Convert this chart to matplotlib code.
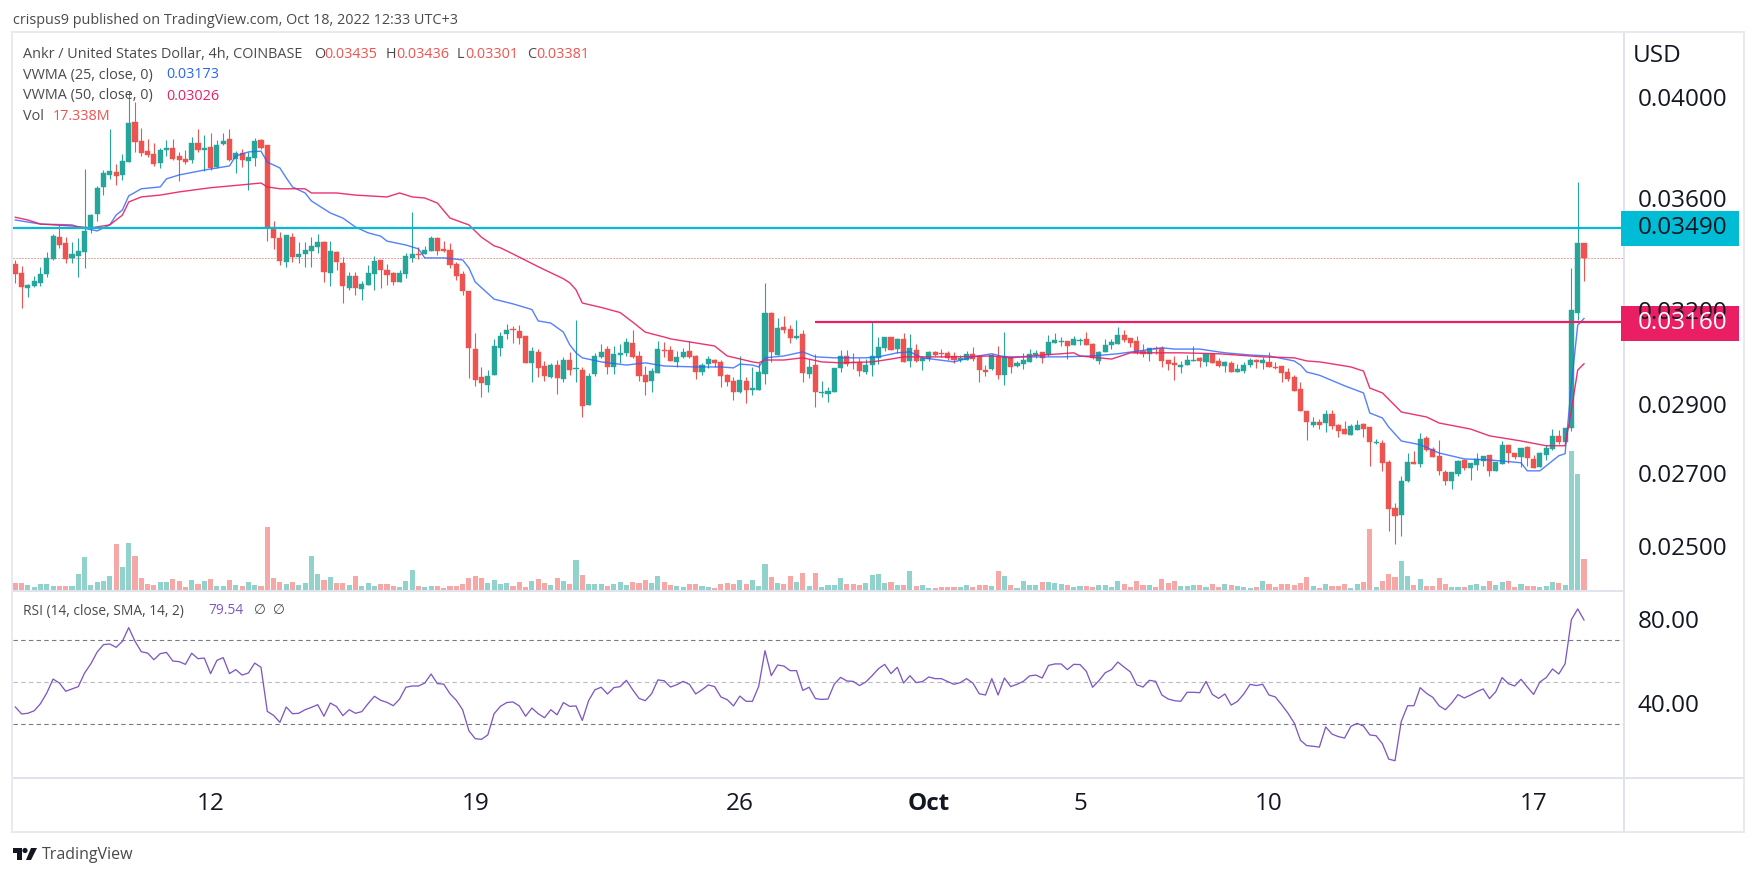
#!/usr/bin/env python
# -*- coding: utf-8 -*-
"""Ankr / USD 4h chart with volume, VWMA lines and RSI pane."""

import matplotlib

matplotlib.use("Agg")
import matplotlib.pyplot as plt  # noqa: E402
import numpy as np  # noqa: E402
from matplotlib.patches import Circle, Polygon, Rectangle  # noqa: E402
from matplotlib.ticker import NullLocator  # noqa: E402

opens = [
    .03360, .03329, .03277, .03284, .03294, .03325, .03378, .03455, .03434, .03381,
    .03388, .03403, .03485, .03539, .03642, .03688, .03699, .03688, .03738, .03898,
    .03821, .03781, .03770, .03734, .03785, .03793, .03762, .03750, .03746, .03813,
    .03785, .03797, .03719, .03809, .03829, .03750, .03774, .03742, .03754, .03825,
    .03805, .03494, .03452, .03367, .03455, .03385, .03395, .03406, .03420, .03438,
    .03329, .03403, .03364, .03277, .03318, .03274, .03287, .03325, .03374, .03339,
    .03329, .03297, .03325, .03381, .03395, .03395, .03406, .03452, .03413, .03410,
    .03360, .03325, .03266, .03073, .02984, .02960, .02990, .03077, .03122, .03138,
    .03132, .03115, .03029, .03064, .03019, .02984, .03022, .02978, .03038, .03009,
    .03006, .02898, .02994, .03048, .03073, .03016, .03054, .03061, .03093, .03051,
    .02990, .02972, .02997, .03070, .03070, .03032, .03048, .03067, .03051, .03000,
    .03025, .03038, .03032, .02990, .02972, .02938, .02972, .02944, .02944, .02994,
    .03190, .03054, .03145, .03138, .03109, .03122, .02994, .03022, .02935, .02932,
    .02938, .03013, .03051, .03032, .03032, .03000, .03022, .03045, .03077, .03112,
    .03073, .03106, .03035, .03070, .03035, .03041, .03064, .03061, .03061, .03051,
    .03038, .03038, .03058, .03051, .03006, .03009, .03048, .02990, .03048, .03019,
    .03025, .03032, .03054, .03064, .03054, .03093, .03096, .03099, .03087, .03099,
    .03106, .03090, .03035, .03064, .03087, .03090, .03118, .03109, .03099, .03067,
    .03058, .03077, .03077, .03038, .03029, .03016, .03022, .03035, .03045, .03032,
    .03058, .03035, .03019, .03029, .03000, .03003, .03022, .03038, .03029, .03032,
    .03016, .03019, .03000, .02984, .02947, .02880, .02838, .02847, .02844, .02871,
    .02838, .02826, .02809, .02823, .02841, .02832, .02785, .02785, .02731, .02603,
    .02583, .02676, .02731, .02725, .02800, .02768, .02748, .02702, .02676, .02696,
    .02736, .02713, .02722, .02733, .02751, .02705, .02725, .02780, .02756, .02745,
    .02774, .02739, .02716, .02751, .02768, .02806, .02788, .02829, .03190, .03435,
]
closes = [
    .03325, .03281, .03287, .03301, .03325, .03381, .03459, .03427, .03378, .03395,
    .03406, .03478, .03536, .03639, .03695, .03703, .03684, .03742, .03894, .03817,
    .03774, .03766, .03730, .03785, .03793, .03750, .03746, .03738, .03813, .03785,
    .03793, .03715, .03805, .03821, .03746, .03774, .03746, .03758, .03821, .03793,
    .03490, .03452, .03371, .03463, .03385, .03395, .03410, .03424, .03438, .03332,
    .03406, .03367, .03284, .03318, .03277, .03290, .03329, .03371, .03339, .03322,
    .03297, .03329, .03388, .03395, .03392, .03410, .03452, .03406, .03406, .03357,
    .03318, .03266, .03077, .02975, .02966, .02987, .03083, .03115, .03135, .03135,
    .03109, .03029, .03067, .03013, .02987, .03022, .02981, .03038, .03006, .03013,
    .02895, .02987, .03051, .03064, .03016, .03058, .03061, .03096, .03048, .02987,
    .02969, .03003, .03073, .03067, .03035, .03048, .03064, .03048, .03000, .03022,
    .03041, .03029, .02987, .02969, .02938, .02975, .02944, .02950, .03000, .03190,
    .03064, .03141, .03135, .03109, .03115, .02997, .03016, .02938, .02938, .02941,
    .03013, .03051, .03025, .03029, .03003, .03022, .03051, .03080, .03112, .03070,
    .03106, .03032, .03077, .03035, .03045, .03064, .03054, .03058, .03045, .03038,
    .03045, .03058, .03041, .03006, .03000, .03054, .02990, .03051, .03016, .03029,
    .03038, .03058, .03061, .03045, .03096, .03102, .03099, .03083, .03106, .03102,
    .03087, .03045, .03064, .03087, .03096, .03118, .03102, .03093, .03061, .03058,
    .03077, .03073, .03035, .03025, .03022, .03022, .03038, .03038, .03035, .03058,
    .03029, .03019, .03032, .03000, .03009, .03022, .03038, .03032, .03038, .03016,
    .03013, .02997, .02978, .02941, .02880, .02847, .02847, .02838, .02871, .02835,
    .02820, .02812, .02835, .02838, .02826, .02788, .02788, .02728, .02600, .02580,
    .02676, .02731, .02725, .02797, .02765, .02745, .02705, .02676, .02702, .02733,
    .02713, .02728, .02739, .02748, .02705, .02731, .02780, .02756, .02745, .02771,
    .02742, .02713, .02756, .02771, .02806, .02788, .02829, .03200, .03434, .03381,
]
highs = [
    .03374, .03353, .03290, .03318, .03350, .03403, .03466, .03500, .03455, .03438,
    .03452, .03711, .03539, .03646, .03707, .03868, .03730, .03770, .04027, .03981,
    .03872, .03829, .03813, .03793, .03825, .03829, .03778, .03785, .03837, .03868,
    .03845, .03853, .03825, .03853, .03868, .03781, .03789, .03778, .03833, .03829,
    .03805, .03514, .03474, .03463, .03471, .03438, .03438, .03455, .03466, .03441,
    .03441, .03406, .03385, .03332, .03332, .03301, .03357, .03388, .03374, .03360,
    .03332, .03339, .03399, .03546, .03420, .03424, .03459, .03455, .03441, .03434,
    .03367, .03336, .03266, .03125, .03016, .03006, .03106, .03128, .03155, .03148,
    .03151, .03115, .03080, .03073, .03035, .03029, .03038, .03048, .03064, .03168,
    .03016, .02997, .03061, .03090, .03083, .03083, .03090, .03109, .03135, .03067,
    .03019, .03013, .03099, .03096, .03083, .03067, .03077, .03099, .03054, .03029,
    .03051, .03041, .03038, .02994, .02984, .03051, .02984, .03016, .03029, .03294,
    .03194, .03174, .03181, .03151, .03168, .03135, .03041, .03058, .02972, .02954,
    .03013, .03070, .03070, .03061, .03045, .03041, .03161, .03112, .03112, .03112,
    .03109, .03125, .03122, .03090, .03051, .03067, .03067, .03073, .03067, .03064,
    .03054, .03067, .03080, .03054, .03022, .03058, .03083, .03128, .03048, .03035,
    .03061, .03073, .03070, .03064, .03118, .03125, .03112, .03099, .03115, .03109,
    .03128, .03093, .03067, .03106, .03106, .03145, .03135, .03109, .03115, .03090,
    .03077, .03083, .03083, .03038, .03051, .03035, .03054, .03083, .03048, .03058,
    .03061, .03045, .03035, .03035, .03025, .03032, .03045, .03041, .03048, .03064,
    .03032, .03019, .03013, .02990, .02969, .02880, .02862, .02856, .02883, .02883,
    .02841, .02850, .02841, .02853, .02844, .02832, .02797, .02794, .02736, .02616,
    .02690, .02756, .02762, .02815, .02806, .02774, .02794, .02708, .02702, .02736,
    .02739, .02728, .02756, .02748, .02751, .02731, .02791, .02780, .02756, .02771,
    .02777, .02751, .02759, .02780, .02826, .02823, .02829, .03346, .03661, .03436,
]
lows = [
    .03294, .03207, .03246, .03281, .03284, .03315, .03374, .03417, .03364, .03364,
    .03315, .03346, .03471, .03514, .03611, .03673, .03650, .03669, .03738, .03778,
    .03762, .03758, .03723, .03715, .03762, .03746, .03665, .03730, .03734, .03778,
    .03703, .03707, .03715, .03805, .03742, .03695, .03719, .03631, .03723, .03789,
    .03441, .03413, .03357, .03350, .03367, .03364, .03350, .03350, .03399, .03297,
    .03284, .03339, .03225, .03270, .03253, .03235, .03287, .03270, .03277, .03287,
    .03287, .03297, .03311, .03367, .03378, .03395, .03406, .03392, .03403, .03346,
    .03304, .03253, .02981, .02957, .02922, .02938, .02990, .03051, .03106, .03093,
    .03090, .03029, .02969, .02984, .02972, .02981, .02932, .02969, .02990, .02969,
    .02862, .02898, .02987, .03045, .02994, .02994, .03029, .03051, .03045, .02972,
    .02929, .02938, .02997, .03048, .03035, .03016, .03045, .03045, .02978, .02990,
    .03013, .03016, .02954, .02957, .02913, .02935, .02904, .02929, .02944, .02963,
    .03032, .03054, .03125, .03093, .03106, .02969, .02981, .02892, .02922, .02907,
    .02938, .03000, .03019, .03009, .02987, .02994, .02987, .03025, .03067, .03070,
    .03061, .03032, .03016, .03032, .03006, .03035, .03051, .03048, .03038, .03029,
    .03032, .03038, .03035, .02969, .02987, .03006, .02978, .02960, .02997, .03016,
    .03009, .03032, .03045, .03029, .03051, .03093, .03083, .03041, .03087, .03087,
    .03087, .03041, .03025, .03064, .03073, .03090, .03096, .03080, .03058, .03048,
    .03035, .03058, .03016, .03006, .02975, .02997, .03022, .03035, .03016, .03019,
    .03029, .03016, .03000, .03000, .03000, .02997, .03016, .03013, .03009, .03016,
    .03009, .02969, .02972, .02941, .02880, .02794, .02832, .02826, .02818, .02826,
    .02803, .02812, .02809, .02823, .02803, .02719, .02782, .02705, .02540, .02506,
    .02527, .02673, .02725, .02716, .02762, .02745, .02694, .02665, .02654, .02690,
    .02708, .02679, .02708, .02719, .02690, .02705, .02725, .02728, .02739, .02716,
    .02719, .02713, .02716, .02736, .02765, .02782, .02788, .02820, .03168, .03301,
]
# volume in millions
volumes = [
    3.9, 3.9, 2.8, 1.7, 3.4, 3.4, 2.2, 2.2, 2.2, 2.2,
    9.0, 18.5, 2.8, 4.5, 5.0, 7.8, 25.8, 12.9, 26.3, 19.0,
    6.7, 3.4, 2.8, 4.5, 4.5, 6.2, 5.0, 1.7, 5.6, 3.4,
    5.0, 6.2, 2.2, 2.2, 5.6, 2.8, 2.2, 4.5, 2.8, 2.2,
    35.3, 6.7, 4.5, 3.4, 4.5, 2.8, 3.9, 19.0, 9.0, 5.6,
    7.3, 3.9, 3.9, 2.8, 7.8, 2.2, 3.9, 2.2, 3.4, 3.4,
    2.2, 1.7, 5.0, 11.2, 2.2, 1.7, 2.2, 2.2, 1.1, 2.2,
    2.2, 3.4, 6.7, 7.8, 6.7, 3.9, 5.6, 3.4, 3.9, 2.2,
    4.5, 1.7, 5.0, 6.2, 3.9, 2.8, 6.7, 5.0, 3.4, 16.8,
    8.4, 3.4, 3.4, 3.4, 2.2, 3.4, 4.5, 2.8, 4.5, 3.9,
    5.6, 3.9, 7.8, 4.5, 2.8, 2.2, 1.7, 3.4, 3.4, 2.2,
    1.7, 1.1, 3.4, 3.9, 3.4, 5.6, 3.4, 5.6, 2.2, 14.6,
    7.3, 3.9, 3.4, 7.8, 4.5, 9.5, 2.2, 9.5, 1.7, 2.8,
    2.8, 6.7, 3.4, 3.4, 2.8, 3.9, 8.4, 9.0, 3.9, 4.5,
    2.8, 2.8, 10.6, 2.2, 2.8, 1.1, 1.1, 1.7, 1.7, 1.7,
    1.7, 2.8, 1.7, 2.8, 2.8, 2.2, 10.6, 7.8, 2.8, 1.1,
    5.0, 2.8, 2.8, 4.5, 4.5, 3.9, 3.4, 2.8, 1.7, 2.2,
    2.2, 1.7, 2.8, 2.8, 1.7, 5.0, 3.4, 1.7, 5.0, 2.8,
    2.8, 1.7, 6.2, 3.9, 5.0, 2.2, 2.2, 2.8, 2.8, 1.7,
    3.4, 1.7, 3.4, 2.8, 2.2, 1.7, 1.1, 1.7, 5.0, 3.4,
    1.7, 3.4, 3.4, 2.8, 3.9, 7.3, 2.2, 1.1, 3.4, 2.2,
    2.2, 3.4, 1.1, 3.4, 4.5, 34.2, 1.7, 5.0, 9.0, 7.3,
    16.2, 7.8, 2.8, 6.2, 2.2, 2.2, 6.7, 3.4, 1.7, 1.7,
    1.7, 2.8, 3.4, 2.2, 5.0, 2.8, 4.5, 5.0, 1.7, 3.4,
    2.2, 2.2, 1.7, 2.2, 4.5, 3.9, 2.8, 77.9, 65.0, 17.338,
]
rsi = [
    38.1, 34.8, 35.1, 36.3, 39.7, 44.8, 51.4, 49.5, 45.6, 46.7,
    47.8, 54.3, 58.7, 64.3, 67.8, 68.1, 66.5, 69.4, 75.9, 69.4,
    64.4, 63.8, 60.6, 63.5, 64.1, 60.0, 59.7, 58.4, 63.7, 61.1,
    61.4, 54.0, 60.3, 61.6, 54.0, 55.9, 53.3, 54.3, 59.0, 57.0,
    36.0, 34.1, 30.8, 38.1, 34.9, 35.1, 36.8, 37.9, 39.2, 33.7,
    40.0, 38.3, 34.0, 36.8, 35.1, 35.9, 39.7, 43.2, 41.3, 40.3,
    38.7, 41.9, 47.5, 48.1, 48.1, 49.5, 53.8, 49.2, 49.0, 44.4,
    41.3, 36.8, 26.8, 23.0, 22.7, 24.8, 34.9, 38.4, 40.2, 40.5,
    38.6, 33.7, 37.6, 34.9, 33.0, 36.8, 34.4, 40.2, 38.4, 38.6,
    31.7, 41.1, 46.3, 47.5, 44.3, 47.3, 47.8, 50.8, 46.3, 42.2,
    41.1, 44.4, 51.0, 50.6, 47.6, 48.7, 50.3, 48.9, 44.3, 46.3,
    48.6, 47.8, 42.9, 41.6, 38.6, 43.3, 40.8, 40.8, 47.9, 64.9,
    53.0, 58.1, 57.6, 55.4, 55.4, 46.0, 47.5, 42.1, 41.7, 41.9,
    49.0, 52.2, 50.5, 50.3, 48.3, 50.0, 53.0, 56.3, 58.4, 54.0,
    57.0, 49.5, 53.0, 49.7, 50.2, 52.4, 51.6, 51.6, 50.2, 48.9,
    49.7, 51.6, 49.5, 44.4, 43.8, 51.6, 43.8, 51.9, 47.8, 48.9,
    50.3, 52.9, 53.3, 51.9, 57.9, 58.6, 58.6, 55.9, 58.4, 58.3,
    55.1, 47.5, 50.6, 54.4, 55.9, 59.5, 57.1, 54.8, 48.7, 47.6,
    50.8, 50.3, 43.8, 41.9, 41.1, 40.8, 45.1, 45.1, 44.9, 50.3,
    44.1, 42.2, 44.3, 39.0, 40.8, 44.3, 48.9, 48.3, 48.9, 43.8,
    42.9, 39.2, 35.2, 30.5, 22.2, 19.7, 19.4, 19.0, 28.6, 25.2,
    24.0, 23.3, 28.9, 30.3, 29.0, 24.8, 24.4, 20.6, 13.3, 12.5,
    31.3, 38.7, 38.7, 47.3, 44.6, 42.7, 38.7, 36.8, 40.0, 44.0,
    42.4, 43.8, 45.4, 46.7, 42.1, 45.4, 52.1, 49.2, 48.1, 51.3,
    47.6, 44.1, 50.0, 52.1, 56.2, 53.8, 58.7, 79.7, 84.8, 79.54,
]
vwma25_idx = [
    0, 4, 9, 10, 13, 15, 16, 17, 18, 20, 23, 24, 26, 30, 34, 35, 37, 39, 40, 42,
    43, 44, 46, 47, 50, 52, 54, 56, 58, 59, 62, 64, 65, 68, 71, 72, 73, 76, 79, 82,
    83, 85, 87, 88, 89, 90, 93, 97, 100, 103, 108, 112, 114, 115, 117, 118, 119, 122, 125, 127,
    130, 135, 137, 140, 142, 144, 149, 152, 155, 157, 162, 166, 171, 175, 182, 184, 188, 192, 196, 199,
    203, 204, 205, 207, 211, 214, 215, 217, 218, 220, 223, 226, 230, 234, 239, 240, 242, 245, 246, 247,
    248, 249,
]
vwma25 = [
    .03518, .03503, .03500, .03492, .03478, .03500, .03536, .03555, .03608, .03635,
    .03642, .03673, .03688, .03707, .03723, .03762, .03778, .03781, .03738, .03715,
    .03677, .03642, .03619, .03589, .03544, .03525, .03492, .03471, .03459, .03441,
    .03427, .03413, .03381, .03381, .03374, .03346, .03297, .03238, .03222, .03203,
    .03165, .03158, .03128, .03087, .03061, .03045, .03032, .03022, .03029, .03019,
    .03016, .03016, .03013, .03025, .03022, .03016, .03045, .03051, .03064, .03048,
    .03045, .03045, .03048, .03061, .03064, .03045, .03032, .03048, .03058, .03048,
    .03048, .03048, .03051, .03058, .03077, .03073, .03073, .03061, .03054, .03051,
    .03035, .03022, .03000, .02990, .02957, .02935, .02874, .02859, .02832, .02791,
    .02780, .02756, .02739, .02736, .02728, .02705, .02705, .02748, .02754, .02960,
    .03151, .03173,
]
vwma50_idx = [
    0, 2, 4, 9, 12, 15, 17, 18, 20, 23, 26, 31, 36, 39, 40, 42, 46, 47, 51, 54,
    59, 61, 63, 65, 67, 69, 72, 74, 76, 77, 79, 83, 87, 88, 89, 90, 93, 96, 98, 100,
    103, 104, 111, 113, 117, 118, 119, 122, 125, 128, 131, 136, 139, 141, 149, 155, 158, 163, 166, 168,
    169, 174, 177, 185, 191, 198, 203, 205, 207, 208, 212, 214, 215, 217, 220, 224, 226, 231, 234, 239,
    243, 246, 247, 248, 249,
]
vwma50 = [
    .03528, .03518, .03503, .03496, .03489, .03500, .03536, .03585, .03604, .03611,
    .03623, .03639, .03650, .03657, .03642, .03635, .03635, .03619, .03619, .03611,
    .03604, .03619, .03604, .03600, .03581, .03525, .03500, .03455, .03424, .03417,
    .03395, .03350, .03308, .03294, .03270, .03225, .03210, .03193, .03161, .03128,
    .03112, .03106, .03083, .03051, .03032, .03029, .03038, .03038, .03045, .03032,
    .03029, .03032, .03041, .03048, .03048, .03051, .03045, .03054, .03058, .03061,
    .03051, .03041, .03061, .03061, .03058, .03048, .03045, .03035, .03032, .03029,
    .03016, .03003, .02950, .02935, .02877, .02862, .02844, .02826, .02806, .02791,
    .02777, .02777, .02883, .03006, .03026,
]
price_ticks = [0.025, 0.027, 0.029, 0.032, 0.036, 0.040]
price_tick_labels = ["0.02500", "0.02700", "0.02900", "0.03200", "0.03600", "0.04000"]
rsi_ticks = [40, 80]
rsi_tick_labels = ["40.00", "80.00"]
date_ticks = [31, 73, 115, 145, 169, 199, 241]
date_labels = ["12", "19", "26", "Oct", "5", "10", "17"]
last_close = 0.03381
resistance = 0.0349
breakout = 0.0316
breakout_start = 127

UP = "#26A69A"
DOWN = "#EF5350"
CYAN = "#00BCD4"
PINK = "#E91E63"
BLUE = "#2962FF"
PURPLE = "#7E57C2"
INK = "#131722"
GREY_TEXT = "#4A4A4A"
FRAME = "#E8E9F2"
LINE = "#E0E3EB"

W, H = 1756, 876
# pane edges in image pixels
LEFT, RIGHT, OUTER_R = 13, 1623, 1744
TOP, SPLIT, RSI_BOT, BOTTOM = 33, 590, 777, 832
# candle 0 sits at x=15.3 and candles are 6.3 px apart
X0, DX = 15.3, 6.3
# px per log-unit of price, 0.036 at y=198
PRICE_TOP = 0.036 * np.exp((198 - TOP) / 954.5)
PRICE_BOT = 0.036 * np.exp((198 - SPLIT) / 954.5)
LEGEND_PX = 14.4
AXIS_PX = 24.2

plt.rcParams["font.family"] = ["Open Sans", "DejaVu Sans"]


def px(n):
    # pixel size to points at dpi 100
    return n * 72.0 / 100.0


def pane(fig, y_top, y_bot):
    return fig.add_axes([LEFT / W, 1 - y_bot / H, (RIGHT - LEFT) / W, (y_bot - y_top) / H])


def rect_px(fig, x0, y0, x1, y1, **kw):
    r = Rectangle((x0, H - y1), x1 - x0, y1 - y0, transform=None, **kw)
    fig.add_artist(r)
    return r


def label(fig, x, y, s, color=INK, size=LEGEND_PX, **kw):
    kw.setdefault("va", "center")
    fig.text(x / W, 1 - y / H, s, color=color, fontsize=px(size), **kw)


def main():
    o = np.array(opens)
    c = np.array(closes)
    hi = np.array(highs)
    lo = np.array(lows)
    vol = np.array(volumes)
    idx = np.arange(len(o))
    colors = np.where(c >= o, UP, DOWN)

    fig = plt.figure(figsize=(W / 100, H / 100), dpi=100, facecolor="white")
    ax = pane(fig, TOP, SPLIT)
    ax_rsi = pane(fig, SPLIT, RSI_BOT)
    xlim = ((LEFT - X0) / DX, (RIGHT - X0) / DX)

    # volume goes under the candles on its own scale
    ax_vol = ax.twinx()
    ax_vol.set_ylim(0, (SPLIT - TOP) * 0.56)
    ax_vol.bar(idx, vol, width=0.8, color=colors, alpha=0.5, linewidth=0)
    ax_vol.axis("off")
    ax.set_zorder(ax_vol.get_zorder() + 1)
    ax.patch.set_visible(False)

    ax.set_yscale("log")
    ax.set_xlim(*xlim)
    ax.set_ylim(PRICE_BOT, PRICE_TOP)
    ax.hlines(last_close, xlim[0], xlim[1], color=DOWN, lw=px(1), linestyles=(0, (1, 2)), zorder=1)
    ax.vlines(idx, lo, hi, color=colors, lw=px(1.1), zorder=2)
    ax.bar(idx, np.abs(c - o), bottom=np.minimum(o, c), width=0.8, color=colors,
           edgecolor=colors, linewidth=0.3, zorder=3)
    ax.plot(vwma25_idx, vwma25, color=BLUE, lw=px(1.4), alpha=0.8, zorder=4)
    ax.plot(vwma50_idx, vwma50, color=PINK, lw=px(1.4), alpha=0.9, zorder=4)
    ax.hlines(resistance, xlim[0], xlim[1], color=CYAN, lw=px(2.2), zorder=5)
    ax.hlines(breakout, breakout_start, xlim[1], color=PINK, lw=px(2.2), zorder=5)

    ax.set_xticks([])
    ax.yaxis.set_minor_locator(NullLocator())
    ax.yaxis.tick_right()
    ax.set_yticks(price_ticks, price_tick_labels)
    ax.tick_params(axis="y", length=0, pad=px(15), labelsize=px(AXIS_PX), labelcolor=INK)

    ax_rsi.set_xlim(*xlim)
    ax_rsi.set_ylim(80 - (RSI_BOT - 619) / 2.1, 80 + (619 - SPLIT) / 2.1)
    ax_rsi.axhline(70, color="#787B86", lw=px(1.1), ls=(0, (4, 3)))
    ax_rsi.axhline(50, color="#787B86", lw=px(1.1), ls=(0, (4, 3)), alpha=0.5)
    ax_rsi.axhline(30, color="#787B86", lw=px(1.1), ls=(0, (4, 3)))
    ax_rsi.plot(idx, rsi, color=PURPLE, lw=px(1.3))
    ax_rsi.yaxis.tick_right()
    ax_rsi.set_yticks(rsi_ticks, rsi_tick_labels)
    ax_rsi.set_xticks(date_ticks, date_labels)
    ax_rsi.tick_params(axis="y", length=0, pad=px(15), labelsize=px(AXIS_PX), labelcolor=INK)
    ax_rsi.tick_params(axis="x", length=0, pad=px(15), labelsize=px(AXIS_PX), labelcolor=INK)
    for t in ax_rsi.get_xticklabels():
        if t.get_text() == "Oct":
            t.set_fontweight("bold")

    for a in (ax, ax_vol, ax_rsi):
        for s in a.spines.values():
            s.set_visible(False)

    # frame and pane separators
    rect_px(fig, LEFT - 1, TOP - 1, OUTER_R, BOTTOM, fill=False, edgecolor=FRAME, linewidth=px(2), zorder=0.5)
    rect_px(fig, LEFT, SPLIT, RIGHT, SPLIT + 1.5, facecolor=LINE, edgecolor="none")
    rect_px(fig, LEFT, RSI_BOT, OUTER_R, RSI_BOT + 1.5, facecolor=LINE, edgecolor="none")
    rect_px(fig, RIGHT, TOP, RIGHT + 1.5, BOTTOM, facecolor=LINE, edgecolor="none")

    # price tags on the right axis
    rect_px(fig, 1621, 211, 1739, 246, facecolor=CYAN, edgecolor="none")
    rect_px(fig, 1621, 306, 1739, 341, facecolor=PINK, edgecolor="none")
    label(fig, 1638, 228, f"{resistance:.5f}", size=AXIS_PX, zorder=4)
    label(fig, 1638, 323, f"{breakout:.5f}", color="white", size=AXIS_PX, zorder=4)
    label(fig, 1633, 56, "USD", size=AXIS_PX)

    # header and legends
    label(fig, 13, 20, "crispus9 published on TradingView.com, Oct 18, 2022 12:33 UTC+3", color=GREY_TEXT)
    label(fig, 23, 54, "Ankr / United States Dollar, 4h, COINBASE", color=GREY_TEXT)
    for x, s in ((314, "O"), (386, "H"), (457, "L"), (527, "C")):
        label(fig, x, 54, s, color=GREY_TEXT)
    for x, v in ((324, opens[-1]), (396, highs[-1]), (465, lows[-1]), (536, closes[-1])):
        label(fig, x, 54, f"{v:.5f}", color=DOWN)
    label(fig, 23, 75, "VWMA (25, close, 0)", color=GREY_TEXT)
    label(fig, 166, 75, f"{vwma25[-1]:.5f}", color=BLUE)
    label(fig, 23, 96, "VWMA (50, close, 0)", color=GREY_TEXT)
    label(fig, 166, 96, f"{vwma50[-1]:.5f}", color=PINK)
    label(fig, 23, 117, "Vol", color=GREY_TEXT)
    label(fig, 53, 117, f"{volumes[-1]:.3f}M", color=DOWN)
    label(fig, 23, 611, "RSI (14, close, SMA, 14, 2)", color=GREY_TEXT, size=13.7)
    label(fig, 208, 611, f"{rsi[-1]:.2f}", color=PURPLE, size=13.7)
    label(fig, 254, 611, "\u2205", color=GREY_TEXT, size=13.7)
    label(fig, 273, 611, "\u2205", color=GREY_TEXT, size=13.7)

    # TradingView mark
    logo = [
        Polygon([(13, H - 848), (22, H - 848), (22, H - 860), (17, H - 860), (17, H - 853), (13, H - 853)]),
        Circle((25, H - 850.5), 2.6),
        Polygon([(37, H - 848), (31, H - 848), (26, H - 860), (31, H - 860)]),
    ]
    for p in logo:
        p.set(transform=None, facecolor="#131722", edgecolor="none")
        fig.add_artist(p)
    label(fig, 42, 855, "TradingView", color=GREY_TEXT, size=16)

    fig.savefig("out.png", dpi=100)
    plt.close(fig)


if __name__ == "__main__":
    main()
